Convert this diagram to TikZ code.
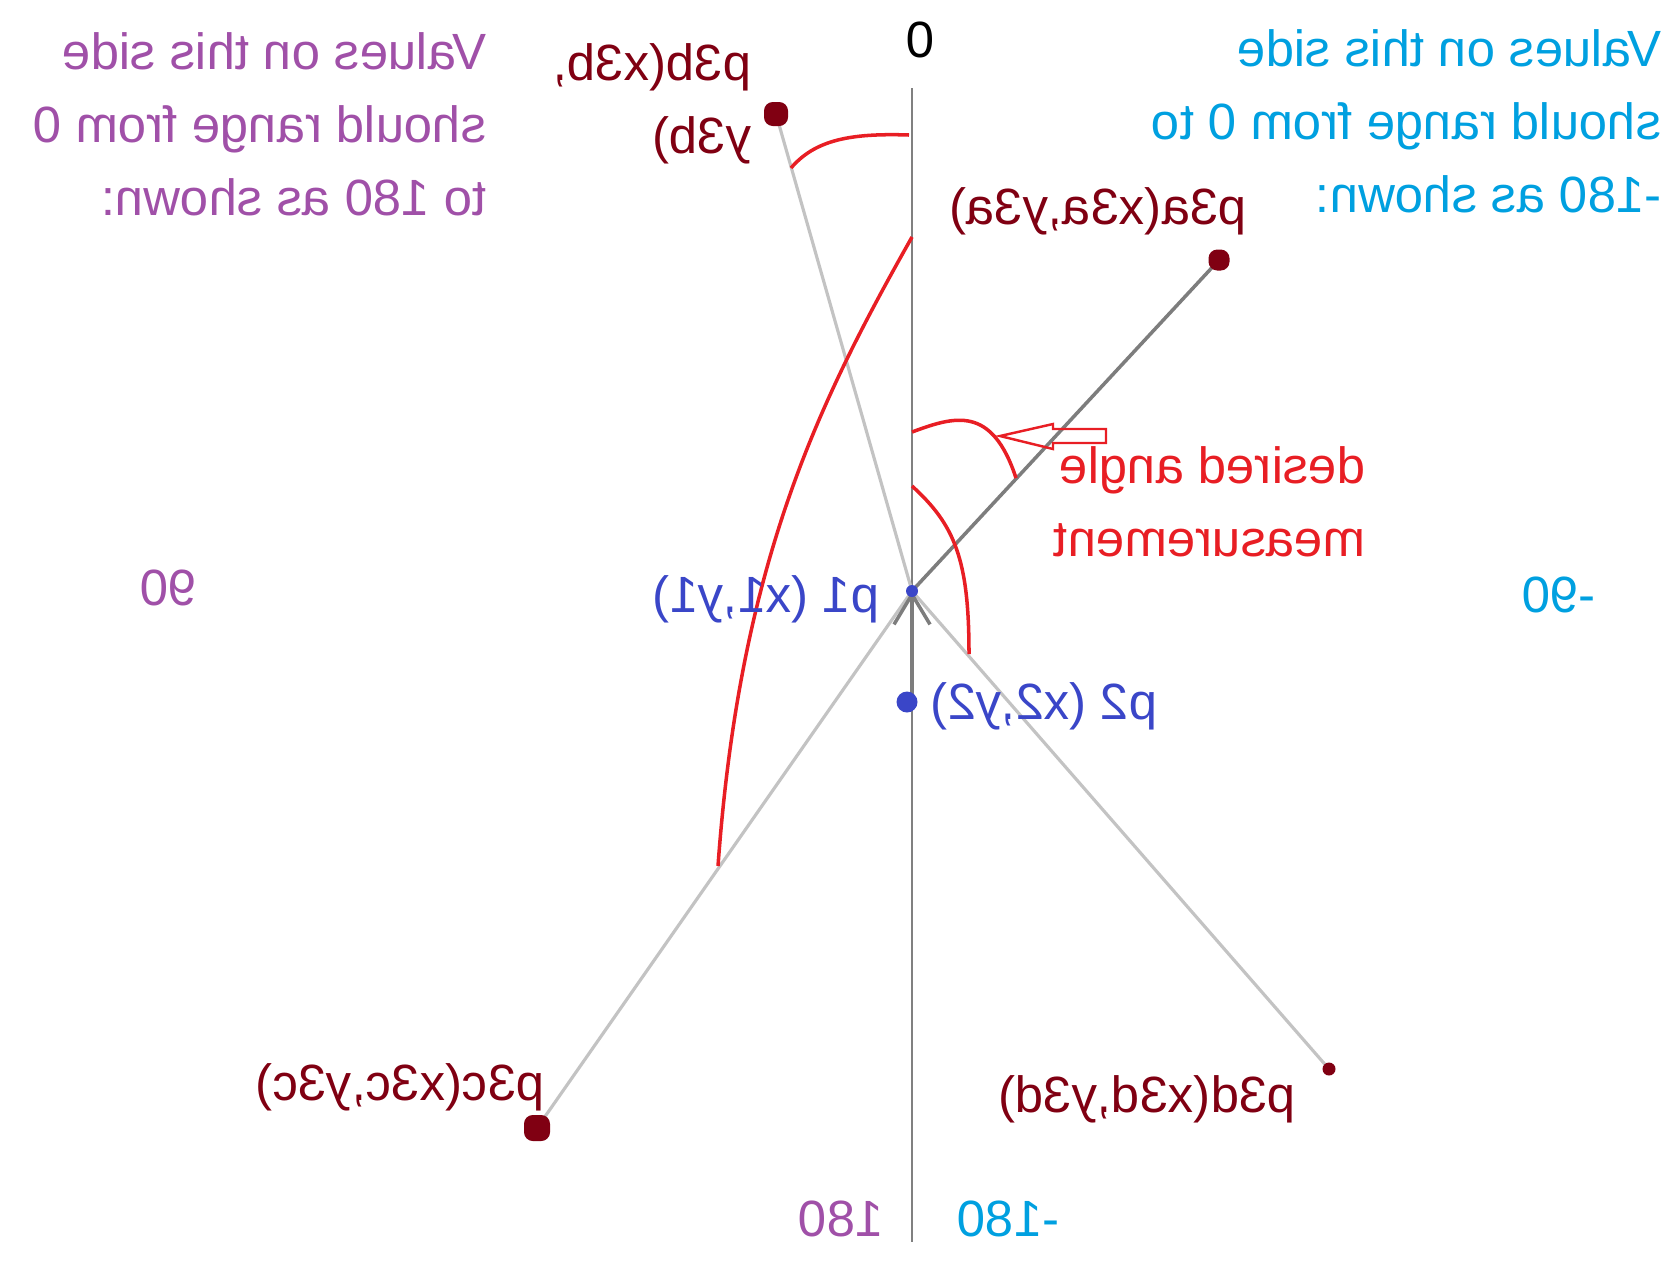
\documentclass[tikz,border=0pt]{standalone}
\usepackage{fontspec}
\setmainfont{Liberation Sans}
\usepackage{tikz}
\usetikzlibrary{arrows.meta, calc}

\definecolor{ptred}{RGB}{128,0,18}
\definecolor{lblpurple}{RGB}{160,80,168}
\definecolor{lblcyan}{RGB}{0,160,224}
\definecolor{lblblue}{RGB}{58,70,200}
\definecolor{markred}{RGB}{232,30,36}
\definecolor{lightln}{RGB}{195,195,195}
\definecolor{darkln}{RGB}{125,125,125}

\tikzset{
  mirr/.style={xscale=-1, inner sep=0pt, font=\fontsize{14.5}{20.7}\selectfont},
  sqdot/.style={fill=ptred, rounded corners=2.5pt, inner sep=0pt, minimum size=#1},
  rounddot/.style={circle, fill=#1, inner sep=0pt},
  lightline/.style={lightln, line width=0.9pt},
  darkline/.style={darkln, line width=1pt},
  redarc/.style={markred, line width=1pt}
}

\begin{document}
\begin{tikzpicture}[x=0.1mm, y=-0.1mm]

  \useasboundingbox (0,0) rectangle (1676,1268);

  \coordinate (top) at (912,88);
  \coordinate (bot) at (912,1242);
  \coordinate (p1) at (912,591);
  \coordinate (p2) at (907,702);
  \coordinate (p2up) at (912,700);
  \coordinate (p3a) at (1219,260);
  \coordinate (p3b) at (776,114);
  \coordinate (p3c) at (537,1128);
  \coordinate (p3d) at (1329,1069);

  \draw[gray, line width=0.4pt] (top) -- (bot);

  \draw[lightline] (p1) -- (p3b);
  \draw[lightline] (p1) -- (p3c);
  \draw[lightline] (p1) -- (p3d);
  \draw[darkline] (p1) -- (p3a);
  \draw[darkline, -{Straight Barb[length=3mm, width=3.6mm]}] (p2up) -- (p1);

  \draw[redarc] (909,135) .. controls (850,133) and (815,140) .. (791,168);
  \draw[redarc] (912,237) .. controls (820,400) and (740,560) .. (718,866);
  \draw[redarc] (912,432) .. controls (955,416) and (992,405) .. (1016,478);
  \draw[redarc] (912,486) .. controls (955,525) and (969,560) .. (969,654);
  \draw[markred, line width=0.7pt] (1000,436) -- (1053,424) -- (1053,429) -- (1106,429)
    -- (1106,443) -- (1053,443) -- (1053,449) -- cycle;

  \node[sqdot=2.1mm] (d3a) at (p3a) {};
  \node[sqdot=2.4mm] (d3b) at (p3b) {};
  \node[sqdot=2.6mm] (d3c) at (p3c) {};
  \node[rounddot=ptred, minimum width=1.3mm, minimum height=1.3mm] (d3d) at (p3d) {};
  \node[rounddot=lblblue, minimum size=1.2mm] (d1) at (p1) {};
  \node[rounddot=lblblue, minimum size=2.1mm] (d2) at (p2) {};

  \node[mirr, lblpurple, align=left, anchor=base west] (leftnote) at (487,215)
    {Values on this side\\should range from 0\\to 180 as shown:};
  \node[mirr, lblcyan, align=left, anchor=base west] (rightnote) at (1662,212)
    {Values on this side\\should range from 0 to\\-180 as shown:};
  \node[mirr, ptred, align=left, anchor=base west] (l3b) at (752,153) {p3b(x3b,\\y3b)};
  \node[mirr] (zero) at (920,40) {0};
  \node[mirr, ptred] (l3a) at (1098,211) {p3a(x3a,y3a)};
  \node[mirr, markred, align=left, anchor=base west] (angnote) at (1366,556)
    {desired angle\\measurement};
  \node[mirr, lblpurple] (ninety) at (168,588) {90};
  \node[mirr, lblcyan] (mninety) at (1559,595) {-90};
  \node[mirr, lblblue] (l1) at (766,599) {p1 (x1,y1)};
  \node[mirr, lblblue] (l2) at (1044,706) {p2 (x2,y2)};
  \node[mirr, ptred] (l3c) at (400,1087) {p3c(x3c,y3c)};
  \node[mirr, ptred] (l3d) at (1147,1099) {p3d(x3d,y3d)};
  \node[mirr, lblpurple] (oneeighty) at (841,1219) {180};
  \node[mirr, lblcyan] (moneeighty) at (1008,1219) {-180};

\end{tikzpicture}
\end{document}
